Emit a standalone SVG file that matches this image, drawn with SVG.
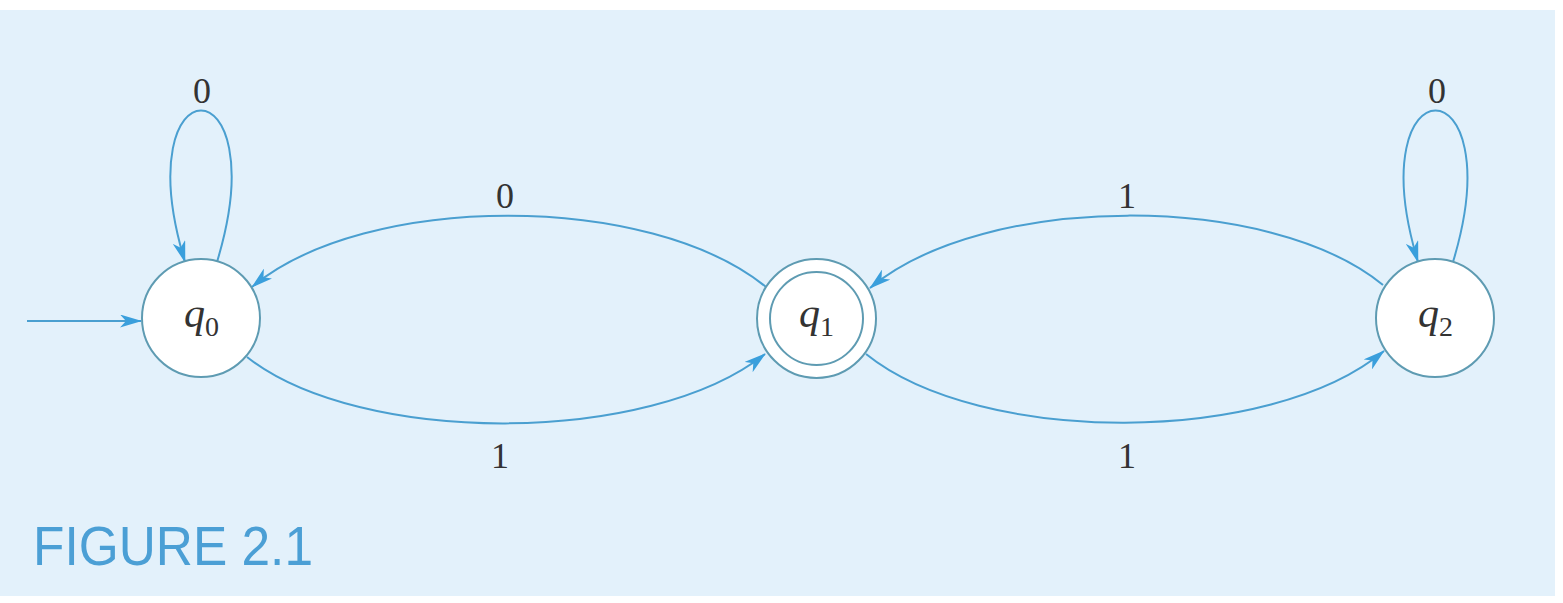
<svg xmlns="http://www.w3.org/2000/svg" width="1563" height="603" viewBox="0 0 1563 603">
<style>
.node{fill:#ffffff;stroke:#5e9bb2;stroke-width:2}
.edge{fill:none;stroke:#4a9fd0;stroke-width:2}
.lbl{font-family:"Liberation Serif","Times New Roman",serif;font-size:36px;fill:#333;text-anchor:middle}
.st{font-family:"Liberation Serif","Times New Roman",serif;font-size:42px;font-style:italic;fill:#333}
.sub{font-style:normal;font-size:28px}
</style>
<defs>
<marker id="ah" viewBox="0 0 22 13" refX="21" refY="6.5" markerWidth="22" markerHeight="13" markerUnits="userSpaceOnUse" orient="auto">
<path d="M0,0 L22,6.5 L0,13 L6,6.5 Z" fill="#3a9fdc"/>
</marker>
</defs>
<rect x="0" y="10" width="1555" height="586" fill="#e3f1fb"/>
<g id="connectors">
<line class="edge" x1="27" y1="321" x2="141" y2="321" marker-end="url(#ah)"/>
<path class="edge" d="M217,262 C278,60 124,60 185,262" marker-end="url(#ah)"/>
<path class="edge" d="M1453,262 C1514,60 1357,60 1418,262" marker-end="url(#ah)"/>
<path class="edge" d="M766,287 C650,192 365,192 252,287" marker-end="url(#ah)"/>
<path class="edge" d="M247,357 C360,446 650,446 765,354" marker-end="url(#ah)"/>
<path class="edge" d="M1383,285 C1270,192 985,192 870,288" marker-end="url(#ah)"/>
<path class="edge" d="M866,354 C980,446 1270,446 1384,351" marker-end="url(#ah)"/>
<text class="lbl" x="202" y="103">0</text>
<text class="lbl" x="1437" y="103">0</text>
<text class="lbl" x="505" y="208">0</text>
<text class="lbl" x="1127" y="208">1</text>
<text class="lbl" x="500" y="468">1</text>
<text class="lbl" x="1127" y="468">1</text>
</g>
<g id="q0">
<circle class="node" cx="201" cy="318" r="59"/>
<text class="st" x="184" y="327">q<tspan class="sub" dy="9">0</tspan></text>
</g>
<g id="q1">
<circle class="node" cx="816.5" cy="318.5" r="59.5"/>
<circle class="node" cx="816.5" cy="318.5" r="46.5"/>
<text class="st" x="799" y="327">q<tspan class="sub" dy="9">1</tspan></text>
</g>
<g id="q2">
<circle class="node" cx="1435" cy="318" r="59"/>
<text class="st" x="1418" y="327">q<tspan class="sub" dy="9">2</tspan></text>
</g>
<text x="33" y="565" font-family="Liberation Sans, Arial, sans-serif" font-size="55" fill="#4b9fd5" textLength="280" lengthAdjust="spacingAndGlyphs">FIGURE 2.1</text>
</svg>
